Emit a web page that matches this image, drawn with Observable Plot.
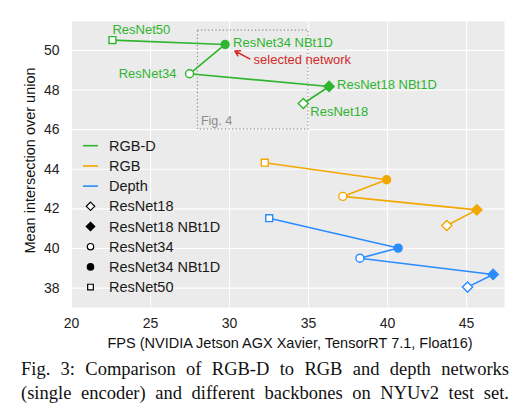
<!DOCTYPE html>
<html>
<head>
<meta charset="utf-8">
<script src="https://cdn.jsdelivr.net/npm/d3@7"></script>
<script src="https://cdn.jsdelivr.net/npm/@observablehq/plot@0.6"></script>
<style>
  html, body { margin: 0; padding: 0; background: white; }
  #wrap { position: relative; width: 515px; }
  #wrap svg.plotsvg { display: block; }
  #legend { position: absolute; left: 0; top: 0; pointer-events: none; }
  #caption { margin: 5px 0 0 21px; width: 488px; font-family: "Liberation Serif", "Times New Roman", serif; font-size: 18.5px; line-height: 24px; color: #111; }
  #caption div { text-align: justify; text-align-last: justify; white-space: nowrap; }
</style>
</head>
<body>
<div id="wrap"></div>
<div id="caption">
  <div>Fig. 3: Comparison of RGB-D to RGB and depth networks</div>
  <div>(single encoder) and different backbones on NYUv2 test set.</div>
</div>
<script>
// ---- data ----
const backbones = ["ResNet50", "ResNet34 NBt1D", "ResNet34", "ResNet18 NBt1D", "ResNet18"];
const filledBackbones = ["ResNet34 NBt1D", "ResNet18 NBt1D"];
const seriesNames = ["RGB-D", "RGB", "Depth"];
const seriesColors = ["#2fb52f", "#f3a800", "#2a8cff"];
const fpsRGBD = [22.59, 29.72, 27.47, 36.30, 34.67];
const miouRGBD = [50.52, 50.30, 48.82, 48.18, 47.32];
const fpsRGB = [32.23, 39.94, 37.17, 45.65, 43.75];
const miouRGB = [44.33, 43.47, 42.63, 41.95, 41.16];
const fpsDepth = [32.51, 40.67, 38.25, 46.68, 45.06];
const miouDepth = [41.53, 40.02, 39.51, 38.69, 38.05];
const xTicks = [20, 25, 30, 35, 40, 45];
const yTicks = [38, 40, 42, 44, 46, 48, 50];
const xLabel = "FPS (NVIDIA Jetson AGX Xavier, TensorRT 7.1, Float16)";
const yLabel = "Mean intersection over union";
const zoomBox = {x1: 28, x2: 35, y1: 46, y2: 51, label: "Fig. 4"};
const annotation = {text: "selected network", x: 31.52, y: 49.5, ax1: 31.28, ay1: 49.57, ax2: 30.34, ay2: 49.97};
const legendBackbones = ["ResNet18", "ResNet18 NBt1D", "ResNet34", "ResNet34 NBt1D", "ResNet50"];
const backboneSymbol = {"ResNet50": "square", "ResNet34 NBt1D": "circle", "ResNet34": "circle", "ResNet18 NBt1D": "diamond2", "ResNet18": "diamond2"};

const fpsBySeries = [fpsRGBD, fpsRGB, fpsDepth];
const miouBySeries = [miouRGBD, miouRGB, miouDepth];
const rows = [];
seriesNames.forEach((s, si) => backbones.forEach((b, bi) => rows.push({
  series: s, color: seriesColors[si], backbone: b,
  fps: fpsBySeries[si][bi], miou: miouBySeries[si][bi],
  filled: filledBackbones.includes(b)
})));

const W = 515, H = 352, ML = 71, MR = 11, MT = 21, MB = 45;
const fontFamily = "'Liberation Sans', Arial, Helvetica, sans-serif";

const marks = [
  Plot.frame({fill: "#ebebeb", stroke: "none"}),
  Plot.gridX(xTicks, {stroke: "white", strokeOpacity: 1, strokeWidth: 1.1}),
  Plot.gridY(yTicks, {stroke: "white", strokeOpacity: 1, strokeWidth: 1.1}),
  Plot.axisX(xTicks, {tickSize: 0, tickPadding: 11, fontSize: 14, fill: "#222", label: null}),
  Plot.axisY(yTicks, {tickSize: 0, tickPadding: 12, fontSize: 14, fill: "#222", label: null}),
  Plot.text([xLabel], {frameAnchor: "bottom", dy: 36, dx: 2, fontSize: 14.5, fill: "#111", lineAnchor: "middle", textAnchor: "middle", text: d => d}),
  Plot.text([yLabel], {frameAnchor: "left", dx: -41, dy: -4, rotate: -90, fontSize: 14.5, fill: "#111", lineAnchor: "middle", textAnchor: "middle", text: d => d}),
  Plot.rect([zoomBox], {x1: "x1", x2: "x2", y1: "y1", y2: "y2", fill: "none", stroke: "#8a8a8a", strokeWidth: 1.1, strokeDasharray: "1.2,2.4"}),
  Plot.text([zoomBox], {x: "x1", y: "y1", text: "label", textAnchor: "start", dx: 3, dy: -9, fontSize: 12.5, fill: "#8a8a8a"})
];

seriesNames.forEach((s, si) => {
  const d = rows.filter(r => r.series === s);
  const c = seriesColors[si];
  marks.push(Plot.line(d, {x: "fps", y: "miou", stroke: c, strokeWidth: 1.6}));
  ["ResNet50", "ResNet34", "ResNet34 NBt1D", "ResNet18", "ResNet18 NBt1D"].forEach(b => {
    const pts = d.filter(r => r.backbone === b);
    const sym = backboneSymbol[b];
    const r = sym === "circle" ? 4 : sym === "square" ? 3.9 : 4.6;
    marks.push(Plot.dot(pts, {x: "fps", y: "miou", symbol: () => sym, r,
      fill: filledBackbones.includes(b) ? c : "white", stroke: c, strokeWidth: 1.4}));
  });
});

// green labels for RGB-D
const rgbd = rows.filter(r => r.series === "RGB-D");
const labelStyle = {x: "fps", y: "miou", text: "backbone", fill: seriesColors[0], fontSize: 13};
marks.push(
  Plot.text(rgbd.filter(r => r.backbone === "ResNet50"), {...labelStyle, textAnchor: "start", dx: 0, dy: -10}),
  Plot.text(rgbd.filter(r => r.backbone === "ResNet34 NBt1D"), {...labelStyle, textAnchor: "start", dx: 8, dy: -2}),
  Plot.text(rgbd.filter(r => r.backbone === "ResNet34"), {...labelStyle, textAnchor: "end", dx: -13, dy: 0}),
  Plot.text(rgbd.filter(r => r.backbone === "ResNet18 NBt1D"), {...labelStyle, textAnchor: "start", dx: 8, dy: -2}),
  Plot.text(rgbd.filter(r => r.backbone === "ResNet18"), {...labelStyle, textAnchor: "start", dx: 7, dy: 8})
);

// annotation
marks.push(
  Plot.arrow([annotation], {x1: "ax1", y1: "ay1", x2: "ax2", y2: "ay2", stroke: "#d42a2a", strokeWidth: 1.5, headLength: 7, bend: 0}),
  Plot.text([annotation], {x: "x", y: "y", text: "text", textAnchor: "start", fill: "#d42a2a", fontSize: 13})
);

const chart = Plot.plot({
  width: W, height: H,
  marginLeft: ML, marginRight: MR, marginTop: MT, marginBottom: MB,
  x: {domain: [20, 47.4]},
  y: {domain: [37.02, 51.46]},
  style: {fontFamily, fontSize: "13px", background: "white", overflow: "visible"},
  marks
});
chart.classList.add("plotsvg");
const wrap = document.getElementById("wrap");
wrap.appendChild(chart);

// legend overlay (inside panel, top-left of lower area)
const lg = d3.select(wrap).append("svg").attr("id", "legend").attr("width", W).attr("height", H);
const items = [
  ...seriesNames.map((s, i) => ({kind: "line", label: s, color: seriesColors[i]})),
  ...legendBackbones.map(b => ({kind: "sym", label: b, sym: backboneSymbol[b], filled: filledBackbones.includes(b)}))
];
const symGen = {circle: d3.symbolCircle, square: d3.symbolSquare, diamond2: d3.symbolDiamond2};
items.forEach((it, i) => {
  const y = 145.7 + i * 20.2;
  const g = lg.append("g").attr("transform", `translate(0,${y})`);
  if (it.kind === "line") {
    g.append("line").attr("x1", 83).attr("x2", 98).attr("y1", 0).attr("y2", 0)
      .attr("stroke", it.color).attr("stroke-width", 1.6);
  } else {
    const r = it.sym === "circle" ? 3.2 : it.sym === "square" ? 3.2 : 3.8;
    g.append("path").attr("transform", "translate(90.5,0)")
      .attr("d", d3.symbol(symGen[it.sym], Math.PI * r * r)())
      .attr("fill", it.filled ? "black" : "white").attr("stroke", "black").attr("stroke-width", 1.2);
  }
  g.append("text").attr("x", 109).attr("y", 0).attr("dy", "0.35em")
    .attr("font-family", fontFamily).attr("font-size", 14.5).attr("fill", "#1a1a1a").text(it.label);
});
</script>
</body>
</html>
